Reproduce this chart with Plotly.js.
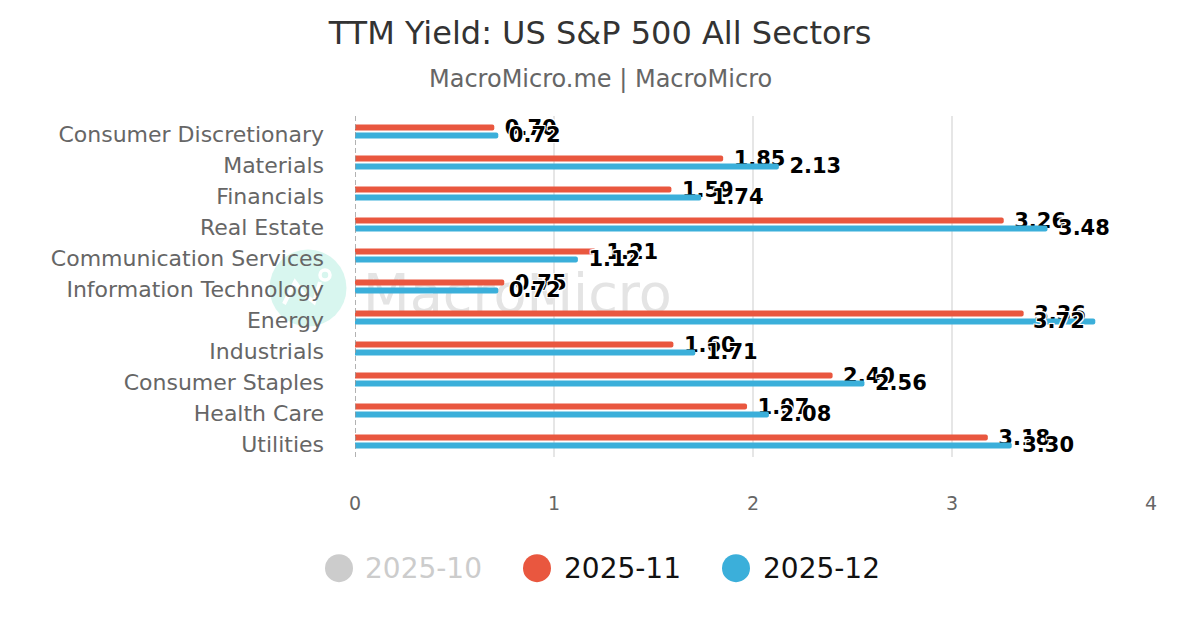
<!DOCTYPE html>
<html>
<head>
<meta charset="utf-8">
<script src="https://cdn.plot.ly/plotly-3.0.1.min.js"></script>
<style>html,body{margin:0;padding:0;background:#fff;}#chart{width:1200px;height:630px;}</style>
</head>
<body>
<div id="chart"></div>
<script>
const categories = ['Consumer Discretionary','Materials','Financials','Real Estate','Communication Services','Information Technology','Energy','Industrials','Consumer Staples','Health Care','Utilities'];
const nov2025 = [0.70,1.85,1.59,3.26,1.21,0.75,3.36,1.60,2.40,1.97,3.18];
const dec2025 = [0.72,2.13,1.74,3.48,1.12,0.72,3.72,1.71,2.56,2.08,3.30];
const seriesNames = ['2025-10','2025-11','2025-12'];
const seriesColors = ['#CCCCCC','#E9573F','#3BAFDA'];
const legendTextColors = ['#CCCCCC','#111111','#111111'];
const xTicks = [0,1,2,3,4];
const xMax = 4;

// pixel -> paper helpers (plot area: x 355..1151, y 115.5..457.5)
const PL = 355, PW = 796, PB = 457.5, PH = 342;
const X = px => (px - PL) / PW;
const Y = py => (PB - py) / PH;

const labelFont = {
  family: 'DejaVu Sans', size: 21, color: '#000', weight: 'bold',
  shadow: '-1px -1px 0 #fff, 1px -1px 0 #fff, -1px 1px 0 #fff, 1px 1px 0 #fff, 0 0 2px #fff'
};

function barTrace(name, values, color) {
  // labels that would overflow the plot are kept inside the bar end (as in the source chart)
  const overflow = v => v > xMax - 0.35;
  const pos = values.map(v => (overflow(v) ? 'inside' : 'outside'));
  const tmpl = values.map(v => (overflow(v) ? '%{x:.2f}\u2002' : '\u2002%{x:.2f}'));
  return {
    type: 'bar', orientation: 'h', name: name,
    y: categories, x: values,
    marker: {color: color, cornerradius: 3},
    texttemplate: tmpl, textposition: pos, insidetextanchor: 'end',
    textfont: labelFont, insidetextfont: labelFont, outsidetextfont: labelFont,
    cliponaxis: false, constraintext: 'none',
    hoverinfo: 'x+name'
  };
}

const data = [
  barTrace(seriesNames[1], nov2025, seriesColors[1]),
  barTrace(seriesNames[2], dec2025, seriesColors[2])
];

const legendX = [339, 537, 736];
const legendTextX = [363, 562, 761];
const legendY = 569;

const shapes = [
  // watermark circle
  {type:'circle', layer:'below', xref:'paper', yref:'paper',
   xsizemode:'pixel', ysizemode:'pixel', xanchor:X(308), yanchor:Y(288),
   x0:-38.5, x1:38.5, y0:-38.5, y1:38.5, fillcolor:'#D8F6EF', line:{width:0}},
  // watermark icon
  {type:'path', layer:'below', xref:'paper', yref:'paper',
   xsizemode:'pixel', ysizemode:'pixel', xanchor:X(308), yanchor:Y(288),
   path:'M -24 -16 L -13 6 L -4 -6 L 6 -14 L 12 6', line:{color:'#ffffff', width:4}},
  {type:'circle', layer:'below', xref:'paper', yref:'paper',
   xsizemode:'pixel', ysizemode:'pixel', xanchor:X(308), yanchor:Y(288),
   x0:12, x1:22, y0:8, y1:18, line:{color:'#ffffff', width:3.5}},
  // watermark text
  {type:'rect', layer:'below', xref:'paper', yref:'paper',
   x0:X(350), x1:X(685), y0:Y(320), y1:Y(260),
   fillcolor:'rgba(0,0,0,0)', line:{width:0},
   label:{text:'MacroMicro', textposition:'middle center',
          font:{family:'DejaVu Sans', size:54, color:'#E4E4E4'}}},
  // dashed axis line at x = 0
  {type:'line', layer:'above', xref:'x', yref:'paper', x0:0, x1:0, y0:0, y1:1,
   line:{color:'#999999', width:1.5, dash:'5px,3px'}}
];

const annotations = [
  {text:'MacroMicro.me | MacroMicro', xref:'paper', yref:'paper', x:X(600), y:Y(78),
   xanchor:'center', yanchor:'middle', showarrow:false,
   font:{family:'DejaVu Sans', size:24, color:'#666666'}}
];

seriesNames.forEach((n, i) => {
  shapes.push({type:'circle', xref:'paper', yref:'paper', xsizemode:'pixel', ysizemode:'pixel',
    xanchor:X(legendX[i]), yanchor:Y(legendY), x0:-14, x1:14, y0:-14, y1:14,
    fillcolor:seriesColors[i], line:{width:0}});
  annotations.push({text:n, xref:'paper', yref:'paper', x:X(legendTextX[i]), y:Y(legendY),
    xanchor:'left', yanchor:'middle', showarrow:false,
    font:{family:'DejaVu Sans', size:28, color:legendTextColors[i]}});
});

const layout = {
  width:1200, height:630,
  margin:{l:355, r:49, t:115.5, b:172.5, pad:0},
  paper_bgcolor:'#ffffff', plot_bgcolor:'rgba(0,0,0,0)',
  font:{family:'DejaVu Sans', color:'#666666'},
  title:{text:'TTM Yield: US S&P 500 All Sectors', xref:'container', yref:'container',
         x:0.5, xanchor:'center', y:1-33/630, yanchor:'middle',
         font:{family:'DejaVu Sans', size:32, color:'#333333'}},
  barmode:'group', bargap:0.485, bargroupgap:0.25,
  showlegend:false,
  xaxis:{range:[0,xMax], tickvals:xTicks, ticktext:xTicks.map(String), showgrid:true,
         gridcolor:'#E6E6E6', gridwidth:1.5, zeroline:false, showline:false, ticks:'',
         tickfont:{family:'DejaVu Sans', size:19, color:'#666666'}, ticklabelstandoff:33,
         fixedrange:true},
  yaxis:{type:'category', autorange:'reversed', showgrid:false, zeroline:false, showline:false,
         ticks:'', tickfont:{family:'DejaVu Sans', size:22, color:'#666666'},
         ticklabelstandoff:30, ticklabelshift:-3, fixedrange:true},
  shapes:shapes, annotations:annotations
};

Plotly.newPlot('chart', data, layout, {displayModeBar:false, staticPlot:true});
</script>
</body>
</html>
